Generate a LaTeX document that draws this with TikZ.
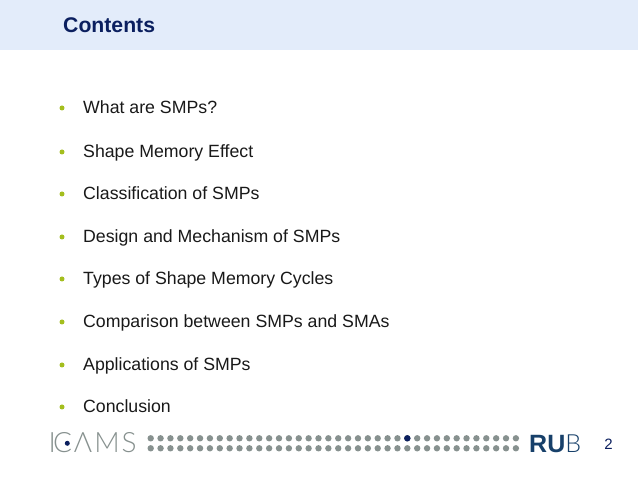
\documentclass[tikz,border=0pt]{standalone}
\usepackage{fontspec}
\setmainfont{Liberation Sans}
\newfontfamily\logolight[UprightFont=* Light]{Lato}
\definecolor{bandblue}{HTML}{E3ECFA}
\definecolor{titleblue}{HTML}{0B1F5F}
\definecolor{bulletgreen}{HTML}{A4BE1E}
\definecolor{dotgrey}{HTML}{87918F}
\definecolor{logogrey}{HTML}{87918F}
\definecolor{rubblue}{HTML}{17406A}
\tikzset{
  x=1pt,y=-1pt,
  titletext/.style={anchor=base west,inner sep=0pt,font=\fontsize{21.2}{21}\selectfont\bfseries,text=titleblue},
  itemtext/.style={anchor=base west,inner sep=0pt,font=\fontsize{17.72}{18}\selectfont,text=black!90},
  bulletmark/.style={circle,fill=bulletgreen,inner sep=0pt,minimum size=5pt},
  stripdot/.style={circle,fill=dotgrey,inner sep=0pt,minimum size=6.4pt},
  activedot/.style={circle,fill=titleblue,inner sep=0pt,minimum size=6.4pt},
  logotext/.style={anchor=base west,inner sep=0pt,text=logogrey,font=\fontsize{28}{28}\logolight\selectfont},
  rubtext/.style={anchor=base west,inner sep=0pt,text=rubblue,font=\fontsize{25}{25}\selectfont},
  pagenum/.style={anchor=base,inner sep=0pt,font=\fontsize{15}{15}\selectfont,text=titleblue}
}
\begin{document}
\begin{tikzpicture}
\useasboundingbox (0,0) rectangle (638,478);
\fill[white] (0,0) rectangle (638,478);
\fill[bandblue] (0,0) rectangle (638,50);
\node[titletext] (title) at (63,33) {Contents};
\foreach \n/\y/\t in {a/114/What are SMPs?,b/158/Shape Memory Effect,c/200/Classification of SMPs,d/243/Design and Mechanism of SMPs,e/285/Types of Shape Memory Cycles,f/328/Comparison between SMPs and SMAs,g/371/Applications of SMPs,h/413/Conclusion}{
  \node[itemtext] (item\n) at (83,\y) {\t};
  \node[bulletmark] (bullet\n) at (62,\y-6) {};
}
\foreach \i in {0,...,37}{
  \node[stripdot] (up\i) at ({150.7+9.87*\i},438.3) {};
  \node[stripdot] (lo\i) at ({150.7+9.87*\i},448.3) {};
}
\node[activedot] (active) at ({150.7+9.87*26},438.3) {};
\node[logotext] (icams) at (48.5,453) {I\kern-3pt C\kern2pt Λ\kern2pt M\kern2pt S};
\node[circle,fill=titleblue,inner sep=0pt,minimum size=5pt] (icdot) at (67.3,443.3) {};
\node[rubtext] (rub) at (529,452.5) {\textbf{RU}\logolight B};
\node[pagenum] (page) at (608.5,450) {2};
\end{tikzpicture}
\end{document}
